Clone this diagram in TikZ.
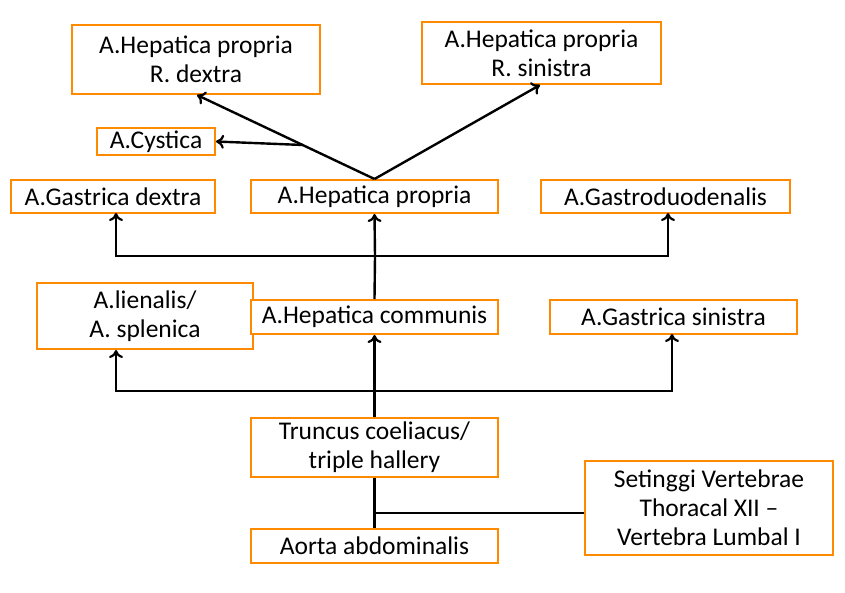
\documentclass[tikz,border=0pt]{standalone}
\usepackage{fontspec}
\setmainfont{Carlito}
\usetikzlibrary{arrows.meta}
\begin{document}
\begin{tikzpicture}[x=1pt,y=-1pt,
  box/.style={draw=orange!85!red!80!yellow,line width=2pt,fill=white,inner sep=0pt,
    font=\fontsize{25.5}{29}\selectfont,align=center},
  ln/.style={line width=2.4pt,black},
  ar/.style={ln,-{To[length=8pt,width=14pt,line width=2.2pt]}}]
\useasboundingbox (0,0) rectangle (845,592);
\node[box,minimum width=248,minimum height=69] (rd) at (196,59.5) {A.Hepatica propria\\R. dextra};
\node[box,minimum width=239,minimum height=62] (rs) at (541.5,53) {A.Hepatica propria\\R. sinistra};
\node[box,minimum width=118,minimum height=27] (cy) at (156,141.5) {A.Cystica};
\node[box,minimum width=204,minimum height=33] (gd) at (113,196.5) {A.Gastrica dextra};
\node[box,minimum width=247,minimum height=33] (hp) at (374.5,196.5) {A.Hepatica propria};
\node[box,minimum width=249,minimum height=33] (gdu) at (665.5,196.5) {A.Gastroduodenalis};
\node[box,minimum width=216,minimum height=66] (li) at (145,316) {A.lienalis/\\A. splenica};
\node[box,minimum width=247,minimum height=34] (hc) at (374.5,317) {A.Hepatica communis};
\node[box,minimum width=247,minimum height=34] (gs) at (673.5,317) {A.Gastrica sinistra};
\node[box,minimum width=247,minimum height=59] (tc) at (374.5,447.5) {Truncus coeliacus/\\triple hallery};
\node[box,minimum width=248,minimum height=94] (st) at (709,508) {Setinggi Vertebrae\\Thoracal XII –\\Vertebra Lumbal I};
\node[box,minimum width=247,minimum height=34] (ao) at (374.5,546) {Aorta abdominalis};
\coordinate (j1) at (375,513);
\coordinate (j2) at (375,391);
\coordinate (j3) at (375,256);
\coordinate (jc) at (303,145);
\draw[ln] (ao.north) -- (tc.south);
\draw[ln] (j1) -- (st.west|-j1);
\draw[ar] (tc.north) -- (hc.south);
\draw[ar] (j2) -| (li.south-|116,0);
\draw[ar] (j2) -| (672,334);
\draw[ln] (hc.north) -- (j3);
\draw[ar] (j3) -| (116,213);
\draw[ar] (j3) -| (668,213);
\draw[ar] (j3) -- (hp.south);
\draw[ar] (hp.north) -- (197,95);
\draw[ar] (hp.north) -- (540,85);
\draw[ar] (jc) -- (cy.east);
\end{tikzpicture}
\end{document}
